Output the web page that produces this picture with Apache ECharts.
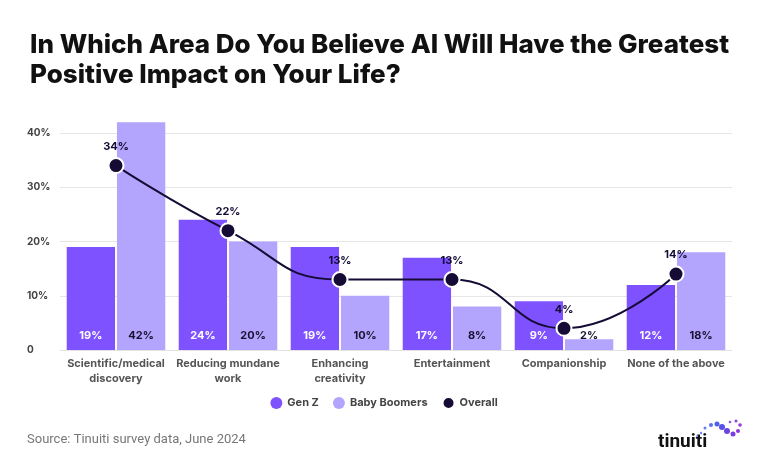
<!DOCTYPE html>
<html><head><meta charset="utf-8">
<script src="https://cdn.jsdelivr.net/npm/echarts@6/dist/echarts.min.js"></script>
<style>html,body{margin:0;padding:0;background:#fff}#c{width:768px;height:471px}</style>
</head><body><div id="c"></div>
<script>
var categories = ['Scientific/medical\ndiscovery','Reducing mundane\nwork','Enhancing\ncreativity','Entertainment','Companionship','None of the above'];
var genZ = [19,24,19,17,9,12];
var boomers = [42,20,10,8,2,18];
var overall = [34,22,13,13,4,14];
var yTicks = [0,10,20,30,40];

var chart = echarts.init(document.getElementById('c'));
var font = 'Inter';
chart.setOption({
  animation:false,
  backgroundColor:'#fff',
  title:{text:'In Which Area Do You Believe AI Will Have the Greatest\nPositive Impact on Your Life?',left:25,top:25,
    textStyle:{fontFamily:font,fontWeight:800,fontSize:26,color:'#111',lineHeight:30}},
  grid:{left:60,right:36,top:133,bottom:121,containLabel:false},
  legend:{bottom:56,left:'center',itemWidth:12,itemHeight:12,itemGap:14,
    data:[{name:'Gen Z',icon:'circle'},{name:'Baby Boomers',icon:'circle'},{name:'Overall',icon:'circle'}],
    textStyle:{fontFamily:font,fontWeight:700,fontSize:11,color:'#444'}},
  xAxis:{type:'category',data:categories,
    axisLine:{lineStyle:{color:'#e2e2e2'}},axisTick:{show:false},
    axisLabel:{fontFamily:font,fontWeight:700,fontSize:11,color:'#555',lineHeight:15,margin:6,interval:0}},
  yAxis:{type:'value',min:0,max:40,interval:10,
    splitLine:{lineStyle:{color:'#e6e6e6'}},
    axisLabel:{fontFamily:font,fontWeight:700,fontSize:10,color:'#444',align:'left',margin:33,
      formatter:function(v){return v===0?'0':v+'%';}}},
  series:[
    {name:'Gen Z',type:'bar',data:genZ,clip:false,itemStyle:{color:'#7f52ff'},barGap:'4%',barCategoryGap:'12%',
      label:{show:true,position:'insideBottom',distance:9,color:'#fff',fontFamily:font,fontWeight:700,fontSize:11,formatter:'{c}%'}},
    {name:'Baby Boomers',type:'bar',data:boomers,clip:false,itemStyle:{color:'#b3a5fd'},
      label:{show:true,position:'insideBottom',distance:9,color:'#1a1030',fontFamily:font,fontWeight:700,fontSize:11,formatter:'{c}%'}},
    {name:'Overall',type:'line',data:overall,smooth:0.5,symbol:'circle',symbolSize:15,clip:false,
      lineStyle:{color:'#150b35',width:2},
      itemStyle:{color:'#150b35',borderColor:'#fff',borderWidth:2},
      label:{show:true,position:'top',distance:5,color:'#150b35',fontFamily:font,fontWeight:700,fontSize:11,formatter:'{c}%'}}
  ],
  graphic:[
    {type:'text',left:27,top:433,style:{text:'Source: Tinuiti survey data, June 2024',font:'13px Roboto',fill:'#777'}},
    {type:'text',left:658,top:433,style:{text:'tinuiti',font:'bold 19px "Liberation Sans Narrow", Roboto',fill:'#111'}},
    {type:'circle',shape:{cx:705,cy:428,r:1.5},style:{fill:'#6a7df0'}},
    {type:'circle',shape:{cx:711,cy:425,r:2},style:{fill:'#5a70f0'}},
    {type:'circle',shape:{cx:717,cy:424,r:2.5},style:{fill:'#4f5ff0'}},
    {type:'circle',shape:{cx:722,cy:427,r:3},style:{fill:'#5a50e8'}},
    {type:'circle',shape:{cx:727,cy:431,r:3},style:{fill:'#6a45e0'}},
    {type:'circle',shape:{cx:733,cy:434,r:2.5},style:{fill:'#7a3be0'}},
    {type:'circle',shape:{cx:738,cy:431,r:2},style:{fill:'#8a35e0'}},
    {type:'circle',shape:{cx:740,cy:425,r:1.8},style:{fill:'#9a35e0'}},
    {type:'circle',shape:{cx:736,cy:421,r:1.5},style:{fill:'#8a40e0'}},
    {type:'circle',shape:{cx:730,cy:422,r:1.3},style:{fill:'#8a50e8'}},
    {type:'circle',shape:{cx:701,cy:433,r:1.2},style:{fill:'#6a8af0'}},
    {type:'circle',shape:{cx:697,cy:436,r:1},style:{fill:'#7a9af0'}}
  ]
});
</script></body></html>
